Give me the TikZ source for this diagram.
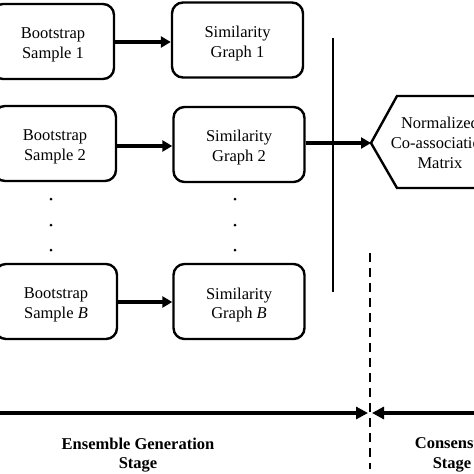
\documentclass[tikz,border=0pt]{standalone}
\usepackage{fontspec}
\setmainfont{Liberation Serif}
\usetikzlibrary{arrows.meta}
\tikzset{
  procbox/.style={draw, line width=2.4pt, rounded corners=11pt, minimum width=122pt, minimum height=75pt, inner sep=0pt},
  simbox/.style={procbox, minimum width=131pt},
  boxtext/.style={align=center, inner sep=0pt, font=\fontsize{16.5}{19.5}\selectfont},
  flow/.style={line width=4pt, -{Triangle[length=10pt,width=11pt]}},
  stagearrow/.style={line width=4pt, -{Triangle[length=12pt,width=12pt]}},
  stagelabel/.style={align=center, font=\fontsize{16.5}{19.5}\selectfont\bfseries, inner sep=0pt},
  plainlabel/.style={align=center, font=\fontsize{16.5}{20}\selectfont, inner sep=0pt},
  dotmark/.style={fill=black}
}
\begin{document}
\begin{tikzpicture}[x=1pt,y=-1pt]
\clip (0,0) rectangle (474,474);
\fill[white] (0,0) rectangle (474,474);
% boxes
\node[procbox] (b1) at (53,41.5) {};
\node[procbox] (b2) at (55,143.5) {};
\node[procbox] (bB) at (56,301.5) {};
\node[simbox] (s1) at (237.5,40) {};
\node[simbox] (s2) at (239,144.5) {};
\node[simbox] (sB) at (239,301.5) {};
\node[boxtext] (b1t) at ([yshift=-3.5pt]b1.center) {Bootstrap\\Sample 1};
\node[boxtext] (b2t) at ([yshift=-3.5pt]b2.center) {Bootstrap\\Sample 2};
\node[boxtext] (bBt) at ([yshift=-3.5pt]bB.center) {Bootstrap\\Sample \textit{B}};
\node[boxtext] (s1t) at ([yshift=-3.5pt]s1.center) {Similarity\\Graph 1};
\node[boxtext] (s2t) at ([yshift=-3pt]s2.center) {Similarity\\Graph 2};
\node[boxtext] (sBt) at ([yshift=-3.5pt]sB.center) {Similarity\\Graph \textit{B}};
% dots
\foreach \yy in {199,225,250}{
  \fill[dotmark] (51,\yy) circle (1.5);
  \fill[dotmark] (235,\yy) circle (1.5);
}
% row arrows
\draw[flow] (b1.east |- 0,42) -- (s1.west |- 0,42);
\draw[flow] (b2.east |- 0,146) -- (s2.west |- 0,146);
\draw[flow] (bB.east |- 0,302) -- (sB.west |- 0,302);
% vertical bar
\coordinate (vtop) at (333,38);
\coordinate (vbot) at (333,292);
\draw[line width=2pt] (vtop) -- (vbot);
% hexagon
\coordinate (hexL) at (371,143);
\draw[line width=2.4pt, line join=miter] (hexL) -- (397,96) -- (483,96) -- (509,143) -- (483,188) -- (397,188) -- cycle;
\node[plainlabel] (hex) at (440,143) {Normalized\\Co-association\\Matrix};
\draw[flow] (s2.east |- 0,143) -- (hexL);
% stage separator
\coordinate (dtop) at (370,253);
\coordinate (dbot) at (370,469);
\draw[line width=2pt, dash pattern=on 9pt off 6pt] (dtop) -- (dbot);
\coordinate (lstart) at (0,413);
\coordinate (ltip) at (368,413);
\coordinate (rstart) at (474,413);
\coordinate (rtip) at (372,413);
\draw[stagearrow] (lstart) -- (ltip);
\draw[stagearrow] (rstart) -- (rtip);
\node[stagelabel] (ens) at (138,455) {Ensemble Generation\\Stage};
\node[stagelabel] (con) at (452,455) {Consensus\\Stage};
\end{tikzpicture}
\end{document}
